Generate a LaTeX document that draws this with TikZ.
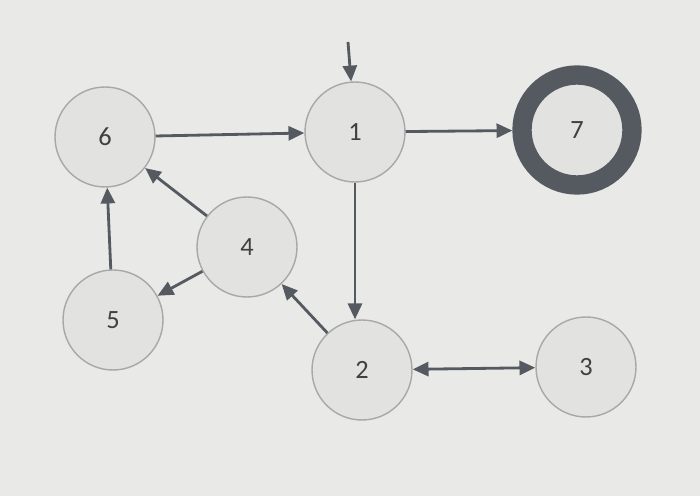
\documentclass[tikz,border=0pt]{standalone}
\usepackage{fontspec}
\setmainfont{Carlito}
\usetikzlibrary{arrows.meta}
\definecolor{bg}{HTML}{E9E9E7}
\definecolor{nf}{HTML}{E2E2E0}
\definecolor{nb}{HTML}{A8A8A8}
\definecolor{ar}{HTML}{555A60}
\begin{document}
\begin{tikzpicture}[x=0.02cm,y=-0.02cm,
 st/.style={circle,draw=nb,fill=nf,line width=0.8pt,minimum size=2cm,inner sep=0pt,font=\fontsize{15}{17}\selectfont,text=black!75},
 fin/.style={circle,draw=ar,fill=nf,line width=11pt,minimum size=2.2cm,inner sep=0pt,font=\fontsize{15}{17}\selectfont,text=black!75},
 e/.style={-{Triangle[length=9pt,width=8pt]},draw=ar,line width=1.6pt}]
\fill[bg] (0,0) rectangle (700,496);
\useasboundingbox (0,0) rectangle (700,496);
\node[st] (n6) at (105,137) {6};
\node[st] (n1) at (355,132) {1};
\node[fin] (n7) at (577,130) {7};
\node[st] (n4) at (247,247) {4};
\node[st] (n5) at (113,320) {5};
\node[st] (n2) at (362,370) {2};
\node[st] (n3) at (586,367) {3};
\coordinate (s) at (348,42);
\draw[e] (s) -- (n1);
\draw[e] (n6) -- (n1);
\draw[e] (n1) -- (n7);
\draw[e] (n1.south) -- (n1.south |- n2.north);
\draw[e] (n2) -- (n4);
\draw[e] (n4) -- (n6);
\draw[e] (n4) -- (n5);
\draw[e] (n5) -- (n6);
\draw[e,{Triangle[length=9pt,width=8pt]}-{Triangle[length=9pt,width=8pt]}] (n2) -- (n3);
\end{tikzpicture}
\end{document}
